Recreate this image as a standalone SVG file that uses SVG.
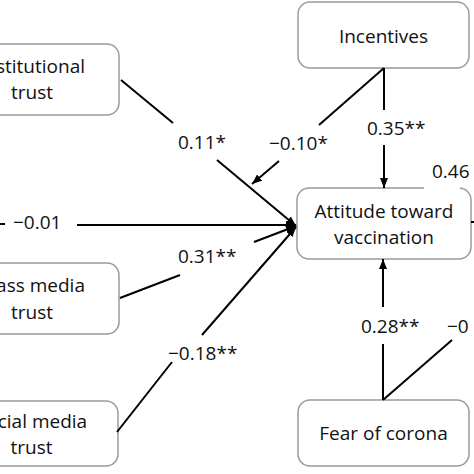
<svg xmlns="http://www.w3.org/2000/svg" width="474" height="474" viewBox="0 0 474 474">
<defs>
<marker id="ah" markerUnits="userSpaceOnUse" markerWidth="11" markerHeight="8" refX="10" refY="4" orient="auto">
<path d="M0,0 L10,4 L0,8 z" fill="#000"/>
</marker>
<style>
.box{fill:#fff;stroke:#9a9a9a;stroke-width:1.5}
.t{font-family:"Open Sans","Noto Sans",sans-serif;font-size:19px;fill:#111}
.c{text-anchor:middle}
.ln{stroke:#000;stroke-width:2;fill:none}
.ar{stroke:#000;stroke-width:2;fill:none;marker-end:url(#ah)}
</style>
</defs>
<rect width="474" height="474" fill="#fff"/>
<g id="institutional">
<rect class="box" x="-55" y="44" width="174" height="71" rx="12"/>
<text class="t c" x="32" y="73">Institutional</text>
<text class="t c" x="32" y="99">trust</text>
</g>
<g id="mass-media">
<rect class="box" x="-55" y="263" width="174" height="71" rx="12"/>
<text class="t c" x="32" y="292">Mass media</text>
<text class="t c" x="32" y="319">trust</text>
</g>
<g id="social-media">
<rect class="box" x="-56" y="401" width="174" height="65" rx="12"/>
<text class="t c" x="31.5" y="428">Social media</text>
<text class="t c" x="31.5" y="454">trust</text>
</g>
<g id="incentives">
<rect class="box" x="298" y="2" width="171" height="66" rx="12"/>
<text class="t c" x="383.5" y="43">Incentives</text>
</g>
<g id="attitude">
<rect class="box" x="297" y="188" width="174" height="71" rx="12"/>
<rect x="424" y="165" width="36" height="25" fill="#fff"/>
<text class="t c" x="384" y="218">Attitude toward</text>
<text class="t c" x="384" y="244">vaccination</text>
</g>
<g id="fear">
<rect class="box" x="298" y="400" width="171" height="66" rx="12"/>
<text class="t c" x="383.5" y="440">Fear of corona</text>
</g>
<g id="connectors">
<line class="ln" x1="121" y1="80" x2="173" y2="123"/>
<line class="ar" x1="217" y1="160" x2="296" y2="226"/>
<line class="ln" x1="0" y1="224" x2="5" y2="224"/>
<line class="ar" x1="77" y1="225" x2="296" y2="225"/>
<line class="ln" x1="120" y1="298" x2="180" y2="275"/>
<line class="ar" x1="254" y1="242" x2="296" y2="226"/>
<line class="ln" x1="117" y1="432" x2="172" y2="362"/>
<line class="ar" x1="202" y1="335" x2="296" y2="227"/>
<line class="ln" x1="384" y1="68" x2="384" y2="110"/>
<line class="ar" x1="384" y1="145" x2="384" y2="188"/>
<line class="ln" x1="384" y1="68" x2="319" y2="125"/>
<line class="ar" x1="279" y1="161" x2="252" y2="184"/>
<line class="ln" x1="383" y1="400" x2="383" y2="344"/>
<line class="ar" x1="383" y1="307" x2="383" y2="259"/>
<line class="ln" x1="383" y1="400" x2="452" y2="340"/>
<line class="ln" x1="471" y1="222" x2="474" y2="222"/>
</g>
<g id="labels">
<text class="t" x="178" y="149">0.11*</text>
<text class="t" x="269" y="150">−0.10*</text>
<text class="t" x="367" y="135">0.35**</text>
<text class="t" x="432" y="178">0.46</text>
<text class="t" x="13" y="229">−0.01</text>
<text class="t" x="178" y="263">0.31**</text>
<text class="t" x="168" y="360">−0.18**</text>
<text class="t" x="361" y="333">0.28**</text>
<text class="t" x="447" y="333">−0</text>
</g>
</svg>
